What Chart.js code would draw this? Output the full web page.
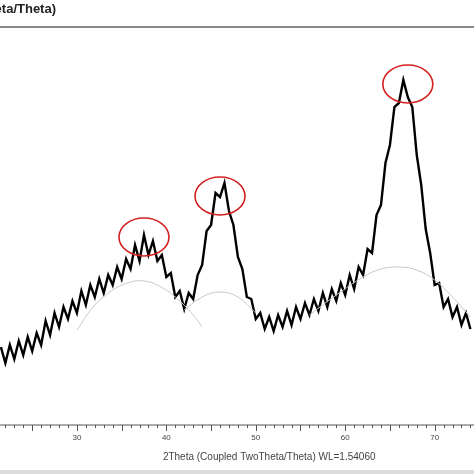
<!DOCTYPE html><html><head><style>html,body{margin:0;background:#fff}#w{width:474px;height:474px}</style>
<script src="https://cdn.jsdelivr.net/npm/chart.js@4/dist/chart.umd.min.js"></script></head><body><div id="w"><canvas id="c"></canvas></div>
<script>
const twoTheta=[21.5,22,22.5,23,23.5,24,24.5,25,25.5,26,26.5,27,27.5,28,28.5,29,29.5,30,30.5,31,31.5,32,32.5,33,33.5,34,34.5,35,35.5,36,36.5,37,37.5,38,38.5,39,39.5,40,40.5,41,41.5,42,42.5,43,43.5,44,44.5,45,45.5,46,46.5,47,47.5,48,48.5,49,49.5,50,50.5,51,51.5,52,52.5,53,53.5,54,54.5,55,55.5,56,56.5,57,57.5,58,58.5,59,59.5,60,60.5,61,61.5,62,62.5,63,63.5,64,64.5,65,65.5,66,66.5,67,67.5,68,68.5,69,69.5,70,70.5,71,71.5,72,72.5,73,73.5,74];
const counts=[78,62,80,66,84,70,88,74,92,80,104,90,112,98,118,106,124,112,134,120,140,128,146,132,150,140,158,146,166,156,180,164,190,170,184,164,170,148,152,128,134,116,132,126,150,160,194,200,232,228,242,214,200,168,156,128,126,106,112,96,108,94,110,98,114,100,118,106,122,110,126,114,132,118,136,124,142,130,150,136,158,150,176,172,210,220,262,280,318,322,345,328,318,270,240,196,172,140,142,118,126,108,118,100,112,96];
const hump1X=[30,32,34,36,37.5,39,41,43,44], hump1Y=[95,120,135,143,144,140,128,110,98];
const hump2X=[42,44,46,48,50], hump2Y=[115,128,133,128,112];
const hump3X=[56,59,62,64,66,68,70,72,74], hump3Y=[110,130,148,156,158,155,145,128,108];
const circleX=[37.5,46,67], circleY=[188,229,341];
const tickLabels=[30,40,50,60,70];
const xTitle="2Theta (Coupled TwoTheta/Theta) WL=1.54060";
const pts=(xs,ys)=>xs.map((x,i)=>({x,y:ys[i]}));
const deco={id:'deco',afterDraw(ch){const c=ch.ctx,xs=ch.scales.x,ys=ch.scales.y;c.save();
c.strokeStyle='#d42020';c.lineWidth=1.6;
circleX.forEach((x,i)=>{c.beginPath();c.ellipse(xs.getPixelForValue(x),ys.getPixelForValue(circleY[i]),25,19,0,0,Math.PI*2);c.stroke();});
c.strokeStyle='#888';c.lineWidth=2;c.beginPath();c.moveTo(0,27);c.lineTo(474,27);c.stroke();
c.strokeStyle='#555';c.lineWidth=1;c.beginPath();c.moveTo(0,425);c.lineTo(474,425);
for(let v=22;v<=74;v++){const p=Math.round(xs.getPixelForValue(v))+.5;c.moveTo(p,425);c.lineTo(p,v%5===0?431:428);}c.stroke();
c.fillStyle='#444';c.font='8px Arial';c.textAlign='center';c.textBaseline='top';
tickLabels.forEach(v=>c.fillText(String(v),xs.getPixelForValue(v),434));
c.font='10px Arial';c.fillText(xTitle,xs.getPixelForValue(51.5),452);
c.fillStyle='#222';c.font='bold 13px Arial';c.textAlign='right';c.textBaseline='top';c.fillText('(Coupled TwoTheta/Theta)',56,3);
c.fillStyle='#ddd';c.fillRect(0,470,474,4);c.restore();}};
new Chart(document.getElementById('c'),{type:'line',data:{datasets:[
{data:pts(hump1X,hump1Y),borderColor:'#c8c8c8',borderWidth:1,pointRadius:0,tension:0.4},
{data:pts(hump2X,hump2Y),borderColor:'#c8c8c8',borderWidth:1,pointRadius:0,tension:0.4},
{data:pts(hump3X,hump3Y),borderColor:'#c8c8c8',borderWidth:1,pointRadius:0,tension:0.4},
{data:pts(twoTheta,counts),borderColor:'#000',borderWidth:2.4,pointRadius:0,tension:0}]},
options:{responsive:true,maintainAspectRatio:false,animation:false,layout:{padding:{top:27,bottom:49,left:0,right:0}},
plugins:{legend:{display:false},tooltip:{enabled:false}},
scales:{x:{type:'linear',min:21.4,max:74.4,display:false},y:{min:0,max:398,display:false}}},plugins:[deco]});
</script></body></html>
